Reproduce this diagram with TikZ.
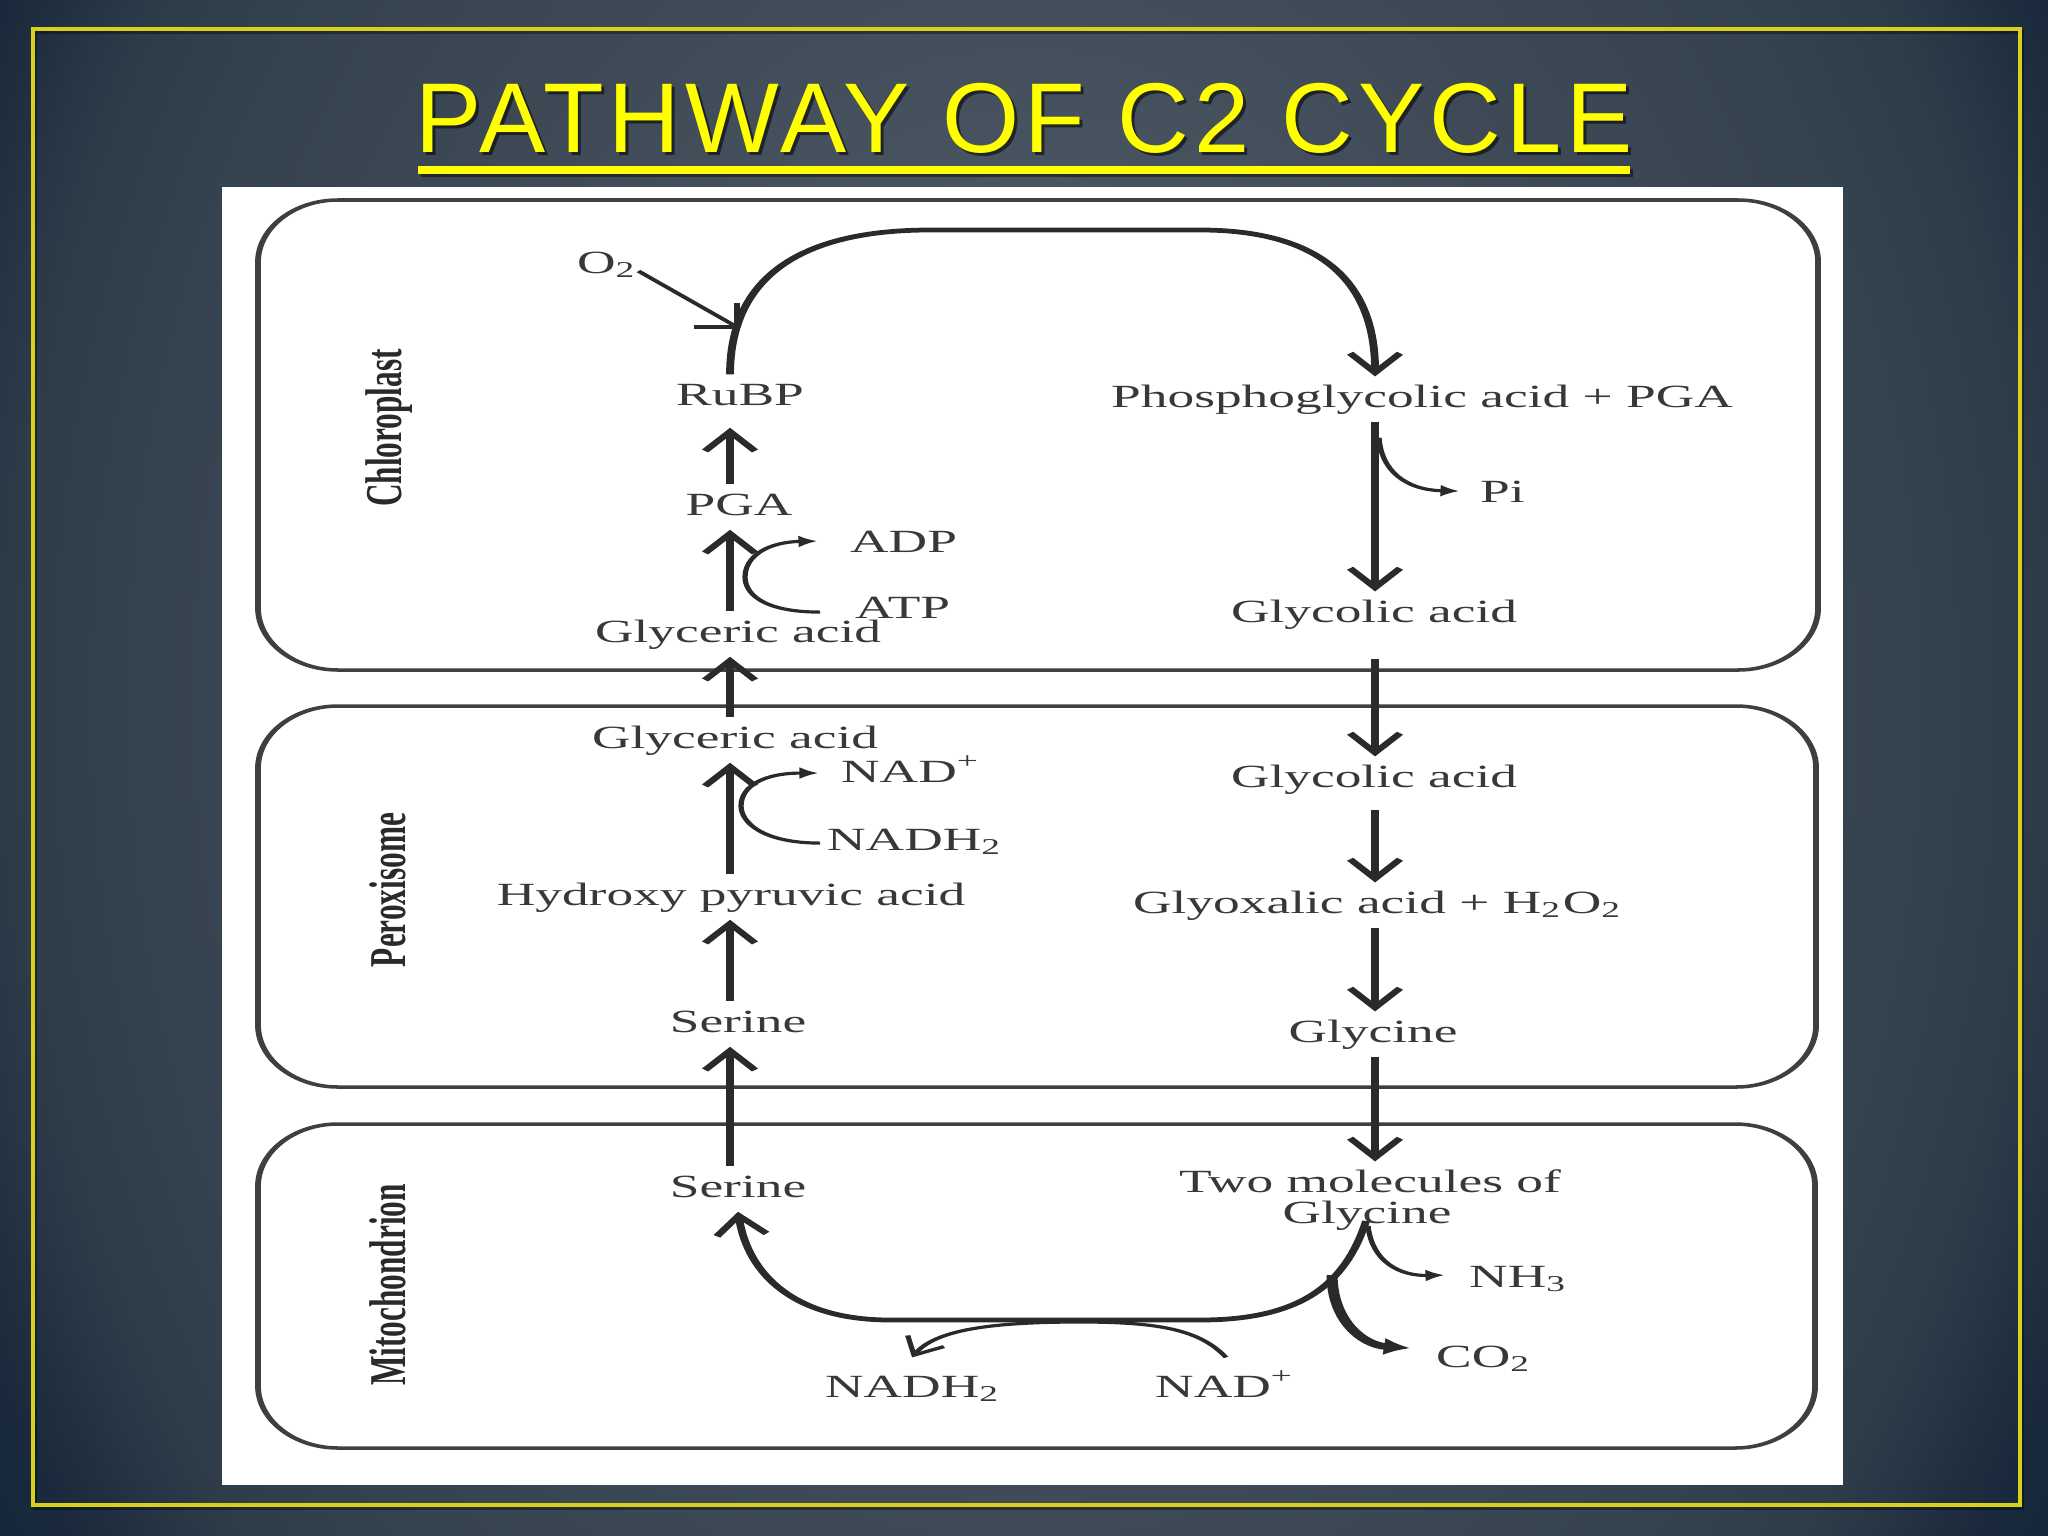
\documentclass[tikz,border=0pt]{standalone}
\usepackage{fontspec}
\setmainfont{Liberation Serif}
\newfontfamily\titlefont[LetterSpace=5]{Liberation Sans}
\usetikzlibrary{arrows.meta,calc}
\definecolor{ink}{HTML}{2A2A2A}
\definecolor{textink}{HTML}{383838}
\definecolor{bgA}{HTML}{4E5A66}
\definecolor{bgB}{HTML}{48545F}
\definecolor{bgC}{HTML}{3F4A56}
\definecolor{bgD}{HTML}{35424F}
\definecolor{bgE}{HTML}{2E3B49}
\definecolor{bgF}{HTML}{1A2A3C}
\definecolor{bgG}{HTML}{14243A}
\definecolor{frameyellow}{HTML}{D8D01C}
\definecolor{titleyellow}{HTML}{FFFF00}
\pgfdeclareradialshading{slidebg}{\pgfpoint{0bp}{0bp}}{color(0bp)=(bgA); color(7.5bp)=(bgB); color(12bp)=(bgC); color(17bp)=(bgD); color(19.5bp)=(bgE); color(22bp)=(bgF); color(25bp)=(bgG); color(50bp)=(bgG)}
\newcommand\cellbox[4]{%
  \draw[cell] ({#1},{#2+62}) .. controls ({#1},{#2+28}) and ({#1+36},{#2}) .. ({#1+80},{#2})
    -- ({#3-80},{#2}) .. controls ({#3-36},{#2}) and ({#3},{#2+28}) .. ({#3},{#2+62})
    -- ({#3},{#4-62}) .. controls ({#3},{#4-28}) and ({#3-36},{#4}) .. ({#3-80},{#4})
    -- ({#1+80},{#4}) .. controls ({#1+36},{#4}) and ({#1},{#4-28}) .. ({#1},{#4-62}) -- cycle;}
\tikzset{
  lbl/.style={font=\fontsize{9.2}{11}\selectfont, text=textink, inner xsep=0pt, inner ysep=2pt, text height=6.5pt, text depth=2pt},
  orgname/.style={font=\bfseries\fontsize{8.9}{10}\selectfont, text=ink, rotate=90, inner sep=0pt},
  flow/.style={draw=ink, line width=1.35pt, -{Straight Barb[length=5.5pt,width=8.6pt]}},
  thinflow/.style={draw=ink, line width=0.9pt, -{Straight Barb[length=4.5pt,width=7pt]}},
  cofactor/.style={draw=ink, line width=0.9pt, -{Latex[length=3.2pt,width=3.4pt]}},
  co2arrow/.style={draw=ink, line width=1.9pt, -{Latex[length=4.5pt,width=5pt]}},
  thinline/.style={draw=ink, line width=0.9pt},
  cell/.style={draw=ink!90, line width=1pt},
  titletext/.style={font=\titlefont\fontsize{28.2}{30}\selectfont, inner sep=0pt}
}
\begin{document}
\begin{tikzpicture}[x=0.01cm,y=-0.01cm]
\useasboundingbox (0,0) rectangle (2048,1536);
\begin{scope}
  \clip (0,0) rectangle (2048,1536);
  \fill[bgG] (0,0) rectangle (2048,1536);
  \shade[shading=slidebg] (1024,700) ellipse [x radius=1300, y radius=1700];
\end{scope}
\draw[black, opacity=0.35, line width=1.4pt] (35,32) rectangle (2022,1508);
\draw[frameyellow, line width=1.4pt] (33,29) rectangle (2020,1505);
% title
\node[titletext, text=black, opacity=0.55] (titleshadow) at (1027,121) {PATHWAY OF C2 CYCLE};
\node[titletext, text=titleyellow] (title) at (1024,118) {PATHWAY OF C2 CYCLE};
\fill[black, opacity=0.45] (421,169) rectangle (1633,177);
\fill[titleyellow] (418,166) rectangle (1630,174);
% figure panel
\fill[white] (222,187) rectangle (1843,1485);
\begin{scope}[transform canvas={xscale=1.65}, x=0.0060606cm]
  \cellbox{258}{200}{1818}{670}
  \cellbox{258}{706}{1816}{1087}
  \cellbox{258}{1124}{1815}{1448}
  \coordinate (lx) at (730,0);
  \coordinate (rx) at (1375,0);
  % compartment names
  \node[orgname] (chl) at (389,428) {Chloroplast};
  \node[orgname] (per) at (388,890) {Peroxisome};
  \node[orgname] (mit) at (388,1285) {Mitochondrion};
  % left column
  \node[lbl, anchor=base west] (o2) at (576,273) {O\textsubscript{2}};
  \node[lbl, anchor=base] (rubp) at (740,405) {RuBP};
  \node[lbl, anchor=base] (pga) at (739,515) {PGA};
  \node[lbl, anchor=base west] (adp) at (849,552) {ADP};
  \node[lbl, anchor=base west] (atp) at (854,618) {ATP};
  \node[lbl, anchor=base] (glyc1) at (738,642) {Glyceric acid};
  \node[lbl, anchor=base] (glyc2) at (735,748) {Glyceric acid};
  \node[lbl, anchor=base west] (nadp1) at (840,782) {NAD\textsuperscript{+}};
  \node[lbl, anchor=base west] (nadh1) at (826,850) {NADH\textsubscript{2}};
  \node[lbl, anchor=base] (hpa) at (731,905) {Hydroxy pyruvic acid};
  \node[lbl, anchor=base] (ser1) at (738,1032) {Serine};
  \node[lbl, anchor=base] (ser2) at (738,1197) {Serine};
  % right column
  \node[lbl, anchor=base] (phos) at (1422,407) {Phosphoglycolic acid + PGA};
  \node[lbl, anchor=base west] (pi) at (1479,502) {Pi};
  \node[lbl, anchor=base] (glyco1) at (1374,622) {Glycolic acid};
  \node[lbl, anchor=base] (glyco2) at (1374,787) {Glycolic acid};
  \node[lbl, anchor=base] (glyox) at (1378,913) {Glyoxalic acid + H\textsubscript{2}O\textsubscript{2}};
  \node[lbl, anchor=base] (glyci) at (1373,1042) {Glycine};
  \node[lbl, anchor=base] (two) at (1370,1192) {Two molecules of};
  \node[lbl, anchor=base] (gly2) at (1367,1223) {Glycine};
  \node[lbl, anchor=base west] (nh3) at (1468,1287) {NH\textsubscript{3}};
  \node[lbl, anchor=base west] (co2) at (1435,1367) {CO\textsubscript{2}};
  \node[lbl, anchor=base] (nadp2) at (1225,1397) {NAD\textsuperscript{+}};
  \node[lbl, anchor=base] (nadh2) at (913,1397) {NADH\textsubscript{2}};
  % cycle through the chloroplast
  \draw[flow] (rubp.north -| lx) .. controls (730,285) and (790,230) .. (930,230)
     -- (1200,230) .. controls (1330,230) and (1375,290) .. (phos.north -| rx);
  \coordinate (hit) at (737,327);
  \draw[thinline] ($(o2.east)+(0,6)$) -- (hit);
  \draw[thinline] (hit) -- ++(-43,0);
  \draw[thinline] (hit) -- ++(0,-24);
  % left column arrows
  \draw[flow] (ser2.north -| lx) -- (ser1.south -| lx);
  \draw[flow] (ser1.north -| lx) -- (hpa.south -| lx);
  \draw[flow] (hpa.north -| lx) -- (glyc2.south -| lx);
  \draw[flow] (glyc2.north -| lx) -- (glyc1.south -| lx);
  \draw[flow] (glyc1.north -| lx) -- (pga.south -| lx);
  \draw[flow] (pga.north -| lx) -- ($(rubp.south -| lx)+(0,8)$);
  \draw[cofactor] ($(atp.west)+(-34,2)$) .. controls (760,612) and (745,592) .. (745,577)
     .. controls (745,556) and (768,542) .. ($(adp.west)+(-32,-3)$);
  \draw[cofactor] ($(nadh1.west)+(-6,1)$) .. controls (762,843) and (741,822) .. (741,806)
     .. controls (741,786) and (764,773) .. ($(nadp1.west)+(-22,-1)$);
  % right column arrows
  \draw[flow] (phos.south -| rx) -- (glyco1.north -| rx);
  \draw[cofactor] ($(phos.south -| rx)+(4,16)$) .. controls (1381,470) and (1405,490) .. ($(pi.west)+(-20,-3)$);
  \draw[flow] ($(glyco1.south -| rx)+(0,22)$) -- (glyco2.north -| rx);
  \draw[flow] ($(glyco2.south -| rx)+(0,8)$) -- (glyox.north -| rx);
  \draw[flow] (glyox.south -| rx) -- (glyci.north -| rx);
  \draw[flow] (glyci.south -| rx) -- (two.north -| rx);
  % mitochondrion
  \draw[flow] ($(gly2.base)+(-1,-2)$) .. controls (1345,1285) and (1300,1320) .. (1200,1320)
     -- (890,1320) .. controls (795,1320) and (748,1275) .. (ser2.south);
  \draw[cofactor] ($(gly2.base)+(1,3)$) .. controls (1372,1262) and (1400,1276) .. ($(nh3.west)+(-24,-4)$);
  \coordinate (split) at (1332,1275);
  \draw[co2arrow] (split) .. controls (1332,1320) and (1362,1345) .. ($(co2.west)+(-25,-11)$);
  \draw[thinflow] ($(nadp2.north)+(1,-9)$) .. controls (1200,1330) and (1160,1322) .. (1080,1322)
     .. controls (990,1322) and (935,1330) .. ($(nadh2.north)+(-1,-9)$);
\end{scope}
\end{tikzpicture}
\end{document}
